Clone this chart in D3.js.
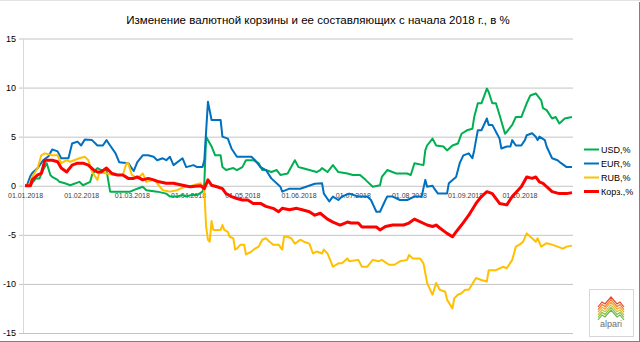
<!DOCTYPE html>
<html>
<head>
<meta charset="utf-8">
<script src="https://cdn.jsdelivr.net/npm/d3@7"></script>
<style>
  body { margin: 0; background: #fff; }
  svg { display: block; font-family: "Liberation Sans", Arial, sans-serif; }
</style>
</head>
<body>
<svg id="chart" width="640" height="342"></svg>
<script>
// Days since 01.01.2018 and value in % for each series
const usd = [[0,0],[3,0],[4,0.3],[6,0.75],[8,0.75],[10,1.6],[12,2.3],[14,1.1],[15,0.9],[18,0.6],[19,0.4],[22,0.25],[25,0.05],
  [30,0.4],[32,0.05],[36,0.4],[37,1.1],[39,1.6],[40,1.8],[42,1.6],[45,1.6],[47,-0.6],[52,-0.6],[58,-0.6],[62,-0.3],[65,-0.1],
  [67,-0.45],[73,-0.6],[78,-0.8],[80,-1.1],[84,-1.1],[87,-0.95],[89,-1.1],[92,-0.95],[95,-0.95],[98,-0.6],[99,0.25],[100,5.0],
  [103,4.0],[105,3.1],[108,3.1],[109,1.9],[111,1.6],[115,1.8],[117,1.6],[120,1.9],[122,2.6],[126,2.6],[129,2.3],[131,1.6],
  [133,1.6],[136,1.4],[139,1.6],[141,1.1],[145,1.25],[149,2.6],[151,1.9],[153,1.8],[157,1.6],[161,1.4],[163,1.6],[164,1.8],
  [167,1.4],[170,2.1],[173,1.4],[178,1.25],[181,1.1],[185,1.1],[188,0.6],[192,-0.1],[196,0.05],[197,0.9],[200,1.6],[205,1.25],
  [211,1.25],[213,1.1],[215,2.3],[220,2.1],[221,3.6],[222,4.1],[225,4.8],[227,4.1],[231,4.0],[233,3.6],[236,4.1],[239,4.3],
  [241,5.3],[244,5.65],[247,5.8],[248,7.0],[250,8.4],[252,8.4],[255,9.9],[256,9.55],[258,8.4],[260,8.4],[262,7.2],[265,5.3],
  [266,5.5],[269,6.2],[271,7.0],[274,7.0],[277,8.4],[279,9.2],[282,9.4],[285,8.7],[286,7.9],[288,7.7],[291,6.85],[293,7.0],
  [295,6.35],[298,6.85],[302,7.0]];

const eur = [[0,0],[1,0],[3,1.0],[4,1.3],[7,1.8],[10,2.6],[13,3.0],[15,3.7],[18,3.5],[20,2.8],[24,2.8],[26,4.3],[29,4.5],
  [31,4.1],[33,4.7],[37,4.65],[40,4.1],[43,4.1],[45,4.65],[47,4.1],[50,3.3],[52,2.4],[57,2.3],[60,1.5],[62,2.4],[65,3.1],
  [68,3.1],[71,2.95],[73,2.6],[76,2.8],[78,2.6],[80,2.95],[82,2.1],[87,2.8],[89,1.9],[93,2.1],[95,1.9],[98,1.9],[99,2.6],
  [101,8.55],[103,6.7],[108,6.7],[109,5.0],[112,4.8],[114,3.8],[117,2.95],[125,2.95],[127,2.6],[130,1.9],[133,1.6],[136,0.75],
  [141,-0.1],[142,-0.6],[146,-0.3],[152,-0.3],[160,0.2],[164,0.25],[165,-0.8],[168,-1.6],[170,-1.1],[173,-1.45],[175,-1.1],
  [179,-0.8],[184,-1.1],[189,-1.1],[191,-1.45],[194,-2.65],[196,-2.65],[199,-1.45],[200,-1.1],[203,-1.1],[207,-1.45],
  [211,-1.45],[215,-1.1],[219,-1.1],[221,0.6],[222,-0.1],[225,0],[226,-0.3],[228,-0.8],[233,-0.8],[234,0.25],[238,0.9],
  [240,2.3],[242,3.1],[245,3.3],[247,2.8],[248,3.6],[249,4.65],[250,5.65],[252,5.65],[255,6.85],[256,6.2],[258,6.2],[260,5.5],
  [262,4.8],[263,3.8],[266,4.0],[268,4.0],[269,4.65],[271,4.1],[274,4.1],[276,4.65],[277,5.15],[280,5.35],[282,5.0],
  [283,4.65],[284,5.0],[287,4.65],[288,4.0],[291,2.8],[294,2.6],[296,2.3],[299,1.9],[302,1.9]];

const rub = [[0,0],[2,0],[4,0.9],[7,1.8],[9,3.1],[11,3.3],[15,3.1],[18,3.1],[20,2.3],[23,2.6],[25,2.45],[30,2.8],[33,2.95],
  [35,2.6],[37,1.4],[40,0.6],[41,1.4],[45,1.25],[49,1.1],[54,1.1],[56,2.3],[57,2.3],[59,1.1],[62,0.75],[65,1.25],[67,0.4],
  [71,0.6],[73,0.25],[76,-0.45],[80,-0.6],[84,-0.45],[88,-0.1],[92,0],[97,0.25],[99,-0.45],[100,-4.2],[101,-5.5],[102,-5.7],
  [103,-3.6],[104,-4.5],[108,-4.5],[109,-4.0],[110,-4.5],[112,-4.7],[113,-5.2],[115,-5.35],[116,-6.5],[117,-6.4],[119,-6.0],
  [121,-6.0],[122,-7.0],[125,-6.7],[127,-6.4],[129,-6.2],[131,-5.5],[133,-5.35],[135,-5.7],[137,-6.0],[140,-6.0],[142,-6.5],
  [143,-5.2],[145,-5.2],[147,-5.35],[149,-5.9],[152,-5.5],[154,-5.7],[157,-5.9],[159,-6.9],[161,-6.7],[164,-6.9],[165,-6.5],
  [167,-6.9],[170,-8.25],[173,-7.9],[175,-7.9],[178,-7.4],[179,-7.7],[184,-7.55],[186,-8.25],[189,-8.25],[192,-7.55],
  [195,-7.7],[197,-7.55],[201,-8.05],[204,-8.05],[207,-7.7],[211,-7.55],[212,-7.05],[214,-7.4],[218,-7.4],[220,-7.9],
  [222,-9.9],[223,-10.3],[225,-11.1],[227,-9.9],[229,-10.6],[232,-10.8],[233,-11.6],[236,-12.5],[237,-11.45],[239,-11.1],
  [241,-10.95],[243,-10.6],[245,-10.6],[249,-9.4],[252,-9.6],[255,-9.75],[256,-8.6],[260,-8.6],[264,-8.25],[266,-8.4],
  [269,-7.55],[271,-6.2],[273,-6.0],[275,-5.7],[277,-4.85],[279,-5.2],[280,-5.35],[282,-5.7],[283,-5.35],[285,-6.2],
  [288,-5.85],[291,-6.0],[294,-6.2],[297,-6.4],[299,-6.2],[302,-6.1]];

const basket = [[0,0],[3,0],[4,0.6],[7,1.1],[9,1.25],[11,2.6],[15,2.6],[18,2.45],[20,1.8],[23,1.4],[26,2.1],[29,2.3],[32,2.3],
  [35,2.1],[38,1.6],[40,1.4],[42,1.4],[45,1.8],[48,1.25],[51,1.1],[54,1.1],[57,0.75],[60,0.75],[62,0.9],[65,0.6],[68,0.75],
  [71,0.6],[74,0.4],[78,0.25],[82,0.25],[87,0.05],[91,-0.1],[97,0],[99,-0.3],[101,0.6],[103,0.05],[106,-0.1],[109,-0.3],
  [111,-0.8],[114,-1.1],[117,-1.3],[120,-1.45],[123,-1.45],[126,-1.8],[130,-1.8],[133,-2.1],[137,-2.3],[140,-2.65],[142,-2.3],
  [146,-2.45],[150,-2.3],[153,-2.45],[157,-2.65],[160,-3.0],[163,-2.8],[167,-3.4],[170,-3.7],[174,-4.0],[178,-3.7],[180,-3.8],
  [184,-3.8],[186,-4.2],[194,-4.2],[196,-4.5],[199,-4.15],[203,-4.0],[209,-4.0],[212,-3.8],[215,-3.4],[218,-3.65],[222,-4.0],
  [225,-4.15],[227,-4.0],[229,-4.3],[233,-4.85],[236,-5.2],[238,-4.7],[241,-4.0],[243,-3.5],[245,-3.0],[249,-1.8],[252,-1.1],
  [255,-0.6],[258,-0.8],[262,-1.8],[266,-1.95],[269,-1.1],[274,-0.1],[277,0.9],[280,0.75],[282,0.9],[284,0.4],[286,0.25],
  [288,-0.1],[291,-0.6],[295,-0.8],[299,-0.8],[302,-0.7]];

const seriesNames = ["USD,%", "EUR,%", "RUB,%", "Корз.,%"];
const seriesColors = ["#00b050", "#0070c0", "#ffc000", "#ff0000"];
const seriesWidths = [2, 2, 2, 3];
const yTicks = [-15, -10, -5, 0, 5, 10, 15];
const monthStarts = ["2018-01-01","2018-02-01","2018-03-01","2018-04-01","2018-05-01","2018-06-01",
  "2018-07-01","2018-08-01","2018-09-01","2018-10-01"];
const title = "Изменение валютной корзины и ее составляющих с начала 2018 г., в %";

const svg = d3.select("#chart");
const start = new Date(2018, 0, 1);
const parse = d3.timeParse("%Y-%m-%d");

const x = d3.scaleTime()
    .domain([start, d3.timeDay.offset(start, 302)])
    .range([25, 572]);
const y = d3.scaleLinear()
    .domain([-15, 15])
    .range([333, 38.5]);

// frame around the picture
svg.append("line").attr("x1", 0).attr("x2", 640).attr("y1", 0.5).attr("y2", 0.5).attr("stroke", "#e3e3e3");
svg.append("line").attr("x1", 639.5).attr("x2", 639.5).attr("y1", 2).attr("y2", 342).attr("stroke", "#808080");
svg.append("line").attr("x1", 0).attr("x2", 640).attr("y1", 341.5).attr("y2", 341.5).attr("stroke", "#808080");

// title
svg.append("text")
    .attr("x", 318)
    .attr("y", 24)
    .attr("text-anchor", "middle")
    .style("font-size", "11.5px")
    .attr("fill", "#000")
    .text(title);

// y axis with gridlines
const yAxis = svg.append("g")
    .attr("transform", "translate(19,0)")
    .call(d3.axisLeft(y).tickValues(yTicks).tickSize(-554).tickPadding(3).tickFormat(d3.format("d")));
yAxis.select(".domain").remove();
yAxis.selectAll(".tick line").attr("stroke", "#c4c4c4");
yAxis.selectAll(".tick text").attr("fill", "#000").style("font-size", "9px")
    .text(d => d < 0 ? "-" + Math.abs(d) : d);

// vertical axis line
svg.append("line")
    .attr("x1", 23.5).attr("x2", 23.5)
    .attr("y1", y(15)).attr("y2", y(-15))
    .attr("stroke", "#d9d9d9");

// date axis at zero
const xAxis = svg.append("g")
    .attr("transform", `translate(0,${y(0)})`)
    .call(d3.axisBottom(x).tickValues(monthStarts.map(parse)).tickSize(0).tickPadding(7)
        .tickFormat(d3.timeFormat("%d.%m.%Y")));
xAxis.select(".domain").remove();
xAxis.selectAll(".tick text").attr("fill", "#404040").style("font-size", "7px");

// series lines
const line = d3.line()
    .x(d => x(d3.timeDay.offset(start, d[0])))
    .y(d => y(d[1]));

[usd, eur, rub, basket].forEach((s, i) => {
    svg.append("path")
        .datum(s)
        .attr("fill", "none")
        .attr("stroke", seriesColors[i])
        .attr("stroke-width", seriesWidths[i])
        .attr("stroke-linejoin", "round")
        .attr("d", line);
});

// legend
const legend = svg.append("g").attr("transform", "translate(584,149.5)");
seriesNames.forEach((name, i) => {
    const g = legend.append("g").attr("transform", `translate(0,${i * 14})`);
    g.append("line").attr("x1", 0).attr("x2", 15).attr("y1", 0).attr("y2", 0)
        .attr("stroke", seriesColors[i]).attr("stroke-width", seriesWidths[i]);
    g.append("text").attr("x", 17).attr("y", 3.5).style("font-size", "9px").attr("fill", "#000").text(name);
});

// alpari logo
const logo = svg.append("g").attr("transform", "translate(589,289)");
logo.append("rect").attr("x", 0.5).attr("y", 0.5).attr("width", 44).attr("height", 47)
    .attr("fill", "#fff").attr("stroke", "#d6d6d6");
const logoColors = ["#e9452f", "#f07c2c", "#f4a52a", "#c9c43a", "#8cc04a", "#6db64a"];
const zig = d3.line();
logoColors.forEach((c, i) => {
    const oy = 10 + i * 2.6;
    logo.append("path")
        .attr("d", zig([[9, oy + 8], [13, oy + 3], [16, oy + 5], [22, oy - 2], [28, oy + 5], [31, oy + 3], [35, oy + 8]]))
        .attr("fill", "none").attr("stroke", c).attr("stroke-width", 1.2);
});
logo.append("text").attr("x", 22).attr("y", 38).attr("text-anchor", "middle")
    .style("font-size", "9px").attr("fill", "#6e6e6e").text("alpari");
</script>
</body>
</html>
